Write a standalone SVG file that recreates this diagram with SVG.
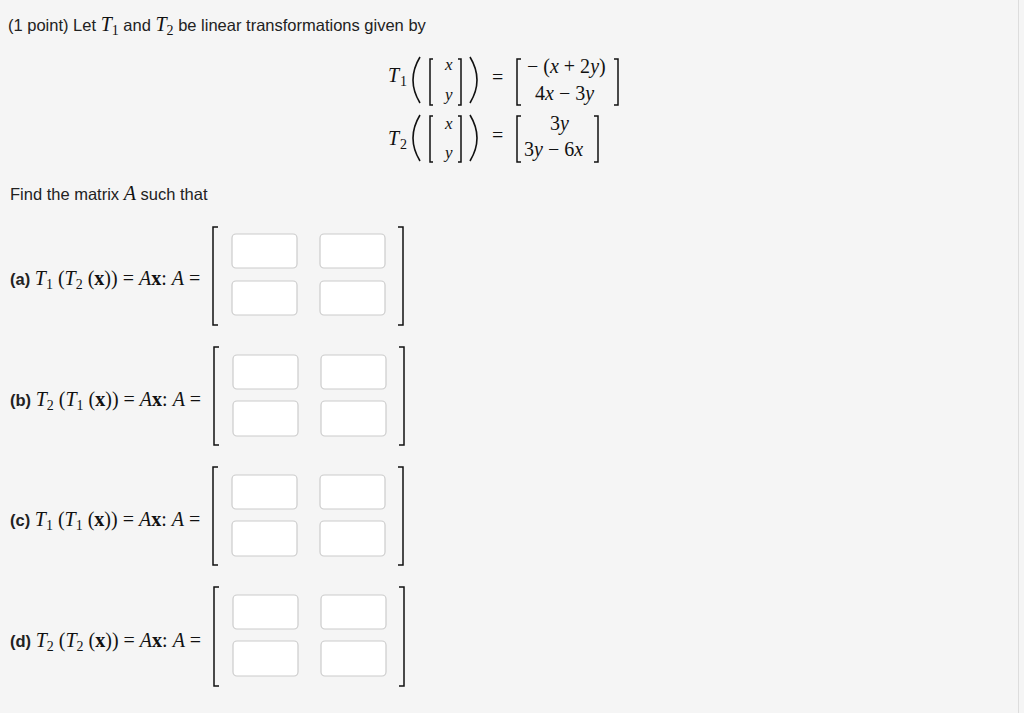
<svg xmlns="http://www.w3.org/2000/svg" width="1024" height="713" viewBox="0 0 1024 713">
<style>
.s{font-family:"Liberation Sans",Arial,sans-serif;font-size:16.5px;fill:#222}
.b{font-family:"Liberation Sans",Arial,sans-serif;font-size:16.5px;font-weight:bold;fill:#222}
.m{font-family:"Liberation Serif","Times New Roman",serif;font-size:20px;fill:#111;font-weight:normal}
.i{font-style:italic}
.sub{font-size:14px}
.box{fill:#fff;stroke:#ccc;stroke-width:1.2}
.br{fill:none;stroke:#111;stroke-width:1.5}
.pa{fill:none;stroke:#111;stroke-width:1.6}
</style>
<rect width="1024" height="713" fill="#f5f5f5"/>
<line x1="1018.5" y1="0" x2="1018.5" y2="713" stroke="#ddd"/>
<text x="8" y="31" class="s">(1 point) Let <tspan class="m i">T</tspan><tspan class="m sub" dy="4">1</tspan><tspan dy="-4"> and </tspan><tspan class="m i">T</tspan><tspan class="m sub" dy="4">2</tspan><tspan dy="-4"> be linear transformations given by</tspan></text>
<g class="m">
<text x="388" y="82" class="i">T</text><text x="400" y="86" class="sub">1</text>
<path class="pa" d="M420 57Q406 80 420 103M470 57Q484 80 470 103"/>
<path class="br" d="M433 59h-3v46h3M458 59h3v46h-3"/>
<text x="445" y="70" class="i" font-size="17">x</text><text x="445" y="100" class="i" font-size="17">y</text>
<text x="492" y="84">=</text>
<path class="br" d="M521 59h-4v46h4M614 59h4v46h-4"/>
<text x="527" y="73">− (<tspan class="i">x</tspan> + 2<tspan class="i">y</tspan>)</text>
<text x="535" y="100">4<tspan class="i">x</tspan> − 3<tspan class="i">y</tspan></text>
<text x="388" y="145" class="i">T</text><text x="400" y="149" class="sub">2</text>
<path class="pa" d="M420 115Q406 138 420 161M470 115Q484 138 470 161"/>
<path class="br" d="M433 116h-3v46h3M458 116h3v46h-3"/>
<text x="445" y="129" class="i" font-size="17">x</text><text x="445" y="158" class="i" font-size="17">y</text>
<text x="492" y="142">=</text>
<path class="br" d="M521 116h-4v46h4M594 116h4v46h-4"/>
<text x="550" y="130">3<tspan class="i">y</tspan></text>
<text x="524" y="156">3<tspan class="i">y</tspan> − 6<tspan class="i">x</tspan></text>
</g>
<text x="10" y="200" class="s">Find the matrix <tspan class="m i">A</tspan> such that</text>

<g id="a">
<text x="10" y="285" class="b">(a) <tspan class="m i">T</tspan><tspan class="m sub" dy="4">1</tspan><tspan class="m" dy="-4"> (<tspan class="i">T</tspan></tspan><tspan class="m sub" dy="4">2</tspan><tspan class="m" dy="-4"> (<tspan font-weight="bold">x</tspan>)) = <tspan class="i">A</tspan><tspan font-weight="bold">x</tspan>: <tspan class="i">A</tspan> =</tspan></text>
<path class="br" d="M218 227h-5v98h5M398 227h5v98h-5"/>
<rect class="box" x="232" y="234" width="65" height="34" rx="4"/><rect class="box" x="320" y="234" width="65" height="34" rx="4"/>
<rect class="box" x="232" y="281" width="65" height="34" rx="4"/><rect class="box" x="320" y="281" width="65" height="34" rx="4"/>
</g>
<g id="b">
<text x="10" y="406" class="b">(b) <tspan class="m i">T</tspan><tspan class="m sub" dy="4">2</tspan><tspan class="m" dy="-4"> (<tspan class="i">T</tspan></tspan><tspan class="m sub" dy="4">1</tspan><tspan class="m" dy="-4"> (<tspan font-weight="bold">x</tspan>)) = <tspan class="i">A</tspan><tspan font-weight="bold">x</tspan>: <tspan class="i">A</tspan> =</tspan></text>
<path class="br" d="M219 347h-5v98h5M399 347h5v98h-5"/>
<rect class="box" x="233" y="355" width="65" height="34" rx="4"/><rect class="box" x="321" y="355" width="65" height="34" rx="4"/>
<rect class="box" x="233" y="401" width="65" height="35" rx="4"/><rect class="box" x="321" y="401" width="65" height="35" rx="4"/>
</g>
<g id="c">
<text x="10" y="526" class="b">(c) <tspan class="m i">T</tspan><tspan class="m sub" dy="4">1</tspan><tspan class="m" dy="-4"> (<tspan class="i">T</tspan></tspan><tspan class="m sub" dy="4">1</tspan><tspan class="m" dy="-4"> (<tspan font-weight="bold">x</tspan>)) = <tspan class="i">A</tspan><tspan font-weight="bold">x</tspan>: <tspan class="i">A</tspan> =</tspan></text>
<path class="br" d="M218 467h-5v98h5M398 467h5v98h-5"/>
<rect class="box" x="232" y="475" width="65" height="34" rx="4"/><rect class="box" x="320" y="475" width="65" height="34" rx="4"/>
<rect class="box" x="232" y="521" width="65" height="35" rx="4"/><rect class="box" x="320" y="521" width="65" height="35" rx="4"/>
</g>
<g id="d">
<text x="10" y="647" class="b">(d) <tspan class="m i">T</tspan><tspan class="m sub" dy="4">2</tspan><tspan class="m" dy="-4"> (<tspan class="i">T</tspan></tspan><tspan class="m sub" dy="4">2</tspan><tspan class="m" dy="-4"> (<tspan font-weight="bold">x</tspan>)) = <tspan class="i">A</tspan><tspan font-weight="bold">x</tspan>: <tspan class="i">A</tspan> =</tspan></text>
<path class="br" d="M219 587h-5v99h5M399 587h5v99h-5"/>
<rect class="box" x="233" y="595" width="65" height="34" rx="4"/><rect class="box" x="321" y="595" width="65" height="34" rx="4"/>
<rect class="box" x="233" y="641" width="65" height="35" rx="4"/><rect class="box" x="321" y="641" width="65" height="35" rx="4"/>
</g>
</svg>
